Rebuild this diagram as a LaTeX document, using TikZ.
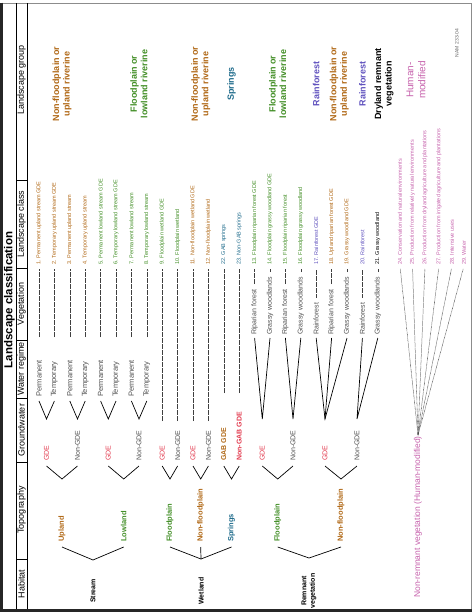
\documentclass[tikz,border=0pt]{standalone}
\usepackage{fontspec}
\setmainfont{Liberation Sans}
\usetikzlibrary{positioning}

\definecolor{upbrown}{RGB}{176,104,22}
\definecolor{lowgreen}{RGB}{66,142,38}
\definecolor{gdered}{RGB}{226,58,78}
\definecolor{springteal}{RGB}{32,108,140}
\definecolor{rainpurple}{RGB}{96,82,190}
\definecolor{humanpink}{RGB}{198,98,172}
\definecolor{midgray}{RGB}{80,80,80}

\begin{document}
\begin{tikzpicture}[x=1pt, y=-1pt,
  every node/.style={rotate=90, inner sep=1pt},
  gridline/.style={draw=black, line width=0.6pt},
  headtxt/.style={font=\fontsize{9}{10}\selectfont},
  habtxt/.style={font=\bfseries\fontsize{7}{8.5}\selectfont, align=center},
  topotxt/.style={font=\bfseries\fontsize{7.5}{9}\selectfont, anchor=west, inner xsep=5pt},
  gwtxt/.style={font=\fontsize{7}{8}\selectfont, anchor=west, inner xsep=5pt, text=midgray},
  wrtxt/.style={font=\fontsize{7.5}{8}\selectfont, anchor=west, inner xsep=4pt, text=midgray},
  vegtxt/.style={font=\fontsize{7}{8}\selectfont, anchor=west, inner xsep=3pt, text=midgray},
  clstxt/.style={font=\fontsize{5.5}{6.5}\selectfont, anchor=west},
  grptxt/.style={font=\bfseries\fontsize{9}{10.5}\selectfont, align=center},
  branch/.style={draw=black, line width=0.7pt},
  leader/.style={draw=black!75, line width=0.5pt, dash pattern=on 0.6pt off 0.6pt}
]
\useasboundingbox (0,0) rectangle (474,613);

% frame and header rows
\draw[black!45, line width=0.5pt] (2,3) rectangle (471,609);
\draw[black!85, line width=2.4pt] (1.6,2.5) -- (1.6,610.4) -- (471.5,610.4);
\draw[gridline] (16,3) -- (16,609);
\draw[gridline] (27,3) -- (27,609);
\foreach \y in {559,462,398,340,268,180}
  \draw[gridline] (16,\y) -- (27,\y);

\node[font=\bfseries\fontsize{11.5}{13}\selectfont] (title) at (9.5,300) {Landscape classification};
\node[headtxt] (h-hab)  at (21.5,584) {Habitat};
\node[headtxt] (h-topo) at (21.5,510) {Topography};
\node[headtxt] (h-gw)   at (21.5,430) {Groundwater};
\node[headtxt] (h-wr)   at (21.5,369) {Water regime};
\node[headtxt] (h-veg)  at (21.5,304) {Vegetation};
\node[headtxt] (h-cls)  at (21.5,224) {Landscape class};
\node[headtxt] (h-grp)  at (21.5,80)  {Landscape group};

% column starts
\coordinate (gwfork) at (0,479);
\coordinate (wrfork) at (0,419);
\coordinate (gwend)  at (0,421);
\coordinate (wrcol)  at (0,393);
\coordinate (vegcol) at (0,337);

% habitat
\node[habtxt] (stream)  at (93,591)  {Stream};
\node[habtxt] (wetland) at (201,591) {Wetland};
\node[habtxt] (remnant) at (309,591) {Remnant\\vegetation};
\node[font=\fontsize{8.5}{10}\selectfont, text=humanpink] (nonremnant) at (418,517) {Non-remnant vegetation (Human-modified)};

% topography
\node[topotxt, text=upbrown]    (upland)  at (62,547)    {Upland};
\node[topotxt, text=lowgreen]   (lowland) at (123.7,547) {Lowland};
\node[topotxt, text=lowgreen]   (wfp)     at (170,547)   {Floodplain};
\node[topotxt, text=upbrown]    (wnfp)    at (200.7,547) {Non-floodplain};
\node[topotxt, text=springteal] (wspr)    at (231.5,547) {Springs};
\node[topotxt, text=lowgreen]   (rfp)     at (277.7,547) {Floodplain};
\node[topotxt, text=upbrown]    (rnfp)    at (341,547)   {Non-floodplain};

\coordinate (stream-v)  at (93,560);
\coordinate (wetland-v) at (201,559);
\coordinate (remnant-v) at (309,558);
\draw[branch] (upland.west) -- (stream-v) -- (lowland.west);
\draw[branch] (wfp.west) -- (wetland-v) -- (wspr.west);
\draw[branch] (wetland-v) -- (wnfp.west);
\draw[branch] (rfp.west) -- (remnant-v) -- (rnfp.west);

% groundwater
\node[gwtxt, text=gdered] (u-gde)   at (46.5,466)  {GDE};
\node[gwtxt]              (u-ngde)  at (77.5,466)  {Non-GDE};
\node[gwtxt, text=gdered] (l-gde)   at (108.3,466) {GDE};
\node[gwtxt]              (l-ngde)  at (139,466)   {Non-GDE};
\node[gwtxt, text=gdered] (wf-gde)  at (162.2,466) {GDE};
\node[gwtxt]              (wf-ngde) at (177.6,466) {Non-GDE};
\node[gwtxt, text=gdered] (wn-gde)  at (193,466)   {GDE};
\node[gwtxt]              (wn-ngde) at (208.4,466) {Non-GDE};
\node[gwtxt, text=upbrown, font=\bfseries\fontsize{7}{8}\selectfont] (ws-gab)  at (223.8,466) {GAB GDE};
\node[gwtxt, text=gdered, font=\bfseries\fontsize{7}{8}\selectfont]  (ws-ngab) at (239.2,466) {Non-GAB GDE};
\node[gwtxt, text=gdered] (rf-gde)  at (262.3,466) {GDE};
\node[gwtxt]              (rf-ngde) at (293,466)   {Non-GDE};
\node[gwtxt, text=gdered] (rn-gde)  at (325,466)   {GDE};
\node[gwtxt]              (rn-ngde) at (357,466)   {Non-GDE};

\foreach \top/\a/\b in {upland/u-gde/u-ngde, lowland/l-gde/l-ngde,
    wfp/wf-gde/wf-ngde, wnfp/wn-gde/wn-ngde, wspr/ws-gab/ws-ngab,
    rfp/rf-gde/rf-ngde, rnfp/rn-gde/rn-ngde}
  \draw[branch] (\a.west) -- (\top.west |- gwfork) -- (\b.west);

% water regime
\foreach \n/\x/\w in {1/39/Permanent, 2/54.4/Temporary, 3/69.8/Permanent, 4/85.2/Temporary,
    5/100.6/Permanent, 6/116/Temporary, 7/131.4/Permanent, 8/146.8/Temporary}
  \node[wrtxt] (wr\n) at (\x,401) {\w};

\foreach \g/\a/\b in {u-gde/1/2, u-ngde/3/4, l-gde/5/6, l-ngde/7/8}
  \draw[branch] (wr\a.west) -- (\g.west |- wrfork) -- (wr\b.west);

% vegetation
\foreach \n/\x/\t in {13/254.6/Riparian forest, 14/270/Grassy woodlands,
    15/285.4/Riparian forest, 16/300.8/Grassy woodlands, 17/316.2/Rainforest,
    18/331.6/Riparian forest, 19/347/Grassy woodlands, 20/362.4/Rainforest,
    21/377.8/Grassy woodlands}
  \node[vegtxt] (v\n) at (\x,338) {\t};

\draw[branch] (v13.west) -- (rf-gde.west |- wrfork) -- (v14.west);
\draw[branch] (v15.west) -- (rf-ngde.west |- wrfork) -- (v16.west);
\draw[branch] (v17.west) -- (rn-gde.west |- wrfork) -- (v19.west);
\draw[branch] (rn-gde.west |- wrfork) -- (v18.west);
\draw[branch] (v20.west) -- (rn-ngde.west |- wrfork) -- (v21.west);

% landscape classes
\foreach \n/\x/\c/\t in {1/39/upbrown/Permanent upland stream GDE,
    2/54.4/upbrown/Temporary upland stream GDE,
    3/69.8/upbrown/Permanent upland stream,
    4/85.2/upbrown/Temporary upland stream,
    5/100.6/lowgreen/Permanent lowland stream GDE,
    6/116/lowgreen/Temporary lowland stream GDE,
    7/131.4/lowgreen/Permanent lowland stream,
    8/146.8/lowgreen/Temporary lowland stream,
    9/162.2/lowgreen/Floodplain wetland GDE,
    10/177.6/lowgreen/Floodplain wetland,
    11/193/upbrown/Non-floodplain wetland GDE,
    12/208.4/upbrown/Non-floodplain wetland,
    22/223.8/springteal/GAB springs,
    23/239.2/springteal/Non-GAB springs,
    13/254.6/lowgreen/Floodplain riparian forest GDE,
    14/270/lowgreen/Floodplain grassy woodland GDE,
    15/285.4/lowgreen/Floodplain riparian forest,
    16/300.8/lowgreen/Floodplain grassy woodland,
    17/316.2/rainpurple/Rainforest GDE,
    18/331.6/upbrown/Upland riparian forest GDE,
    19/347/upbrown/Grassy woodland GDE,
    20/362.4/rainpurple/Rainforest,
    21/377.8/black/Grassy woodland,
    24/400/humanpink/Conservation and natural environments,
    25/412.5/humanpink/Production from relatively natural environments,
    26/425/humanpink/Production from dryland agriculture and plantations,
    27/439/humanpink/Production from irrigated agriculture and plantations,
    28/452/humanpink/Intensive uses,
    29/464/humanpink/Water}
  \node[clstxt, text=\c] (c\n) at (\x,266) {\n. \t};

\foreach \n in {1,...,8}
  \draw[leader, shorten >=3pt] (c\n.west |- vegcol) -- (c\n.west);
\foreach \n in {9,...,12}
  \draw[leader, shorten >=3pt] (c\n.west |- gwend) -- (c\n.west);
\foreach \n in {22,23}
  \draw[leader, shorten >=3pt] (c\n.west |- wrcol) -- (c\n.west);
\foreach \n in {13,...,21}
  \draw[leader, shorten <=2pt, shorten >=3pt] (v\n.east) -- (c\n.west);
\foreach \n in {24,...,29}
  \draw[leader, shorten >=3pt] (nonremnant.east) -- (c\n.west);

% landscape groups
\node[grptxt, text=upbrown]    (g-up1)  at (62,84)    {Non-floodplain or\\upland riverine};
\node[grptxt, text=lowgreen]   (g-low1) at (139,84)   {Floodplain or\\lowland riverine};
\node[grptxt, text=upbrown]    (g-up2)  at (200.7,84) {Non-floodplain or\\upland riverine};
\node[grptxt, text=springteal] (g-spr)  at (231.5,84) {Springs};
\node[grptxt, text=lowgreen]   (g-low2) at (277.7,84) {Floodplain or\\lowland riverine};
\node[grptxt, text=rainpurple] (g-rain1) at (316.2,84) {Rainforest};
\node[grptxt, text=upbrown]    (g-up3)  at (339.3,84) {Non-floodplain or\\upland riverine};
\node[grptxt, text=rainpurple] (g-rain2) at (362.4,84) {Rainforest};
\node[grptxt, text=black]      (g-dry)  at (384,84)   {Dryland remnant\\vegetation};
\node[font=\fontsize{10}{12}\selectfont, text=humanpink, align=center] (g-human) at (416,80) {Human-\\modified};
\node[font=\fontsize{5}{6}\selectfont, text=black!60] (nam) at (457,43) {NAM 233-04};
\end{tikzpicture}
\end{document}
